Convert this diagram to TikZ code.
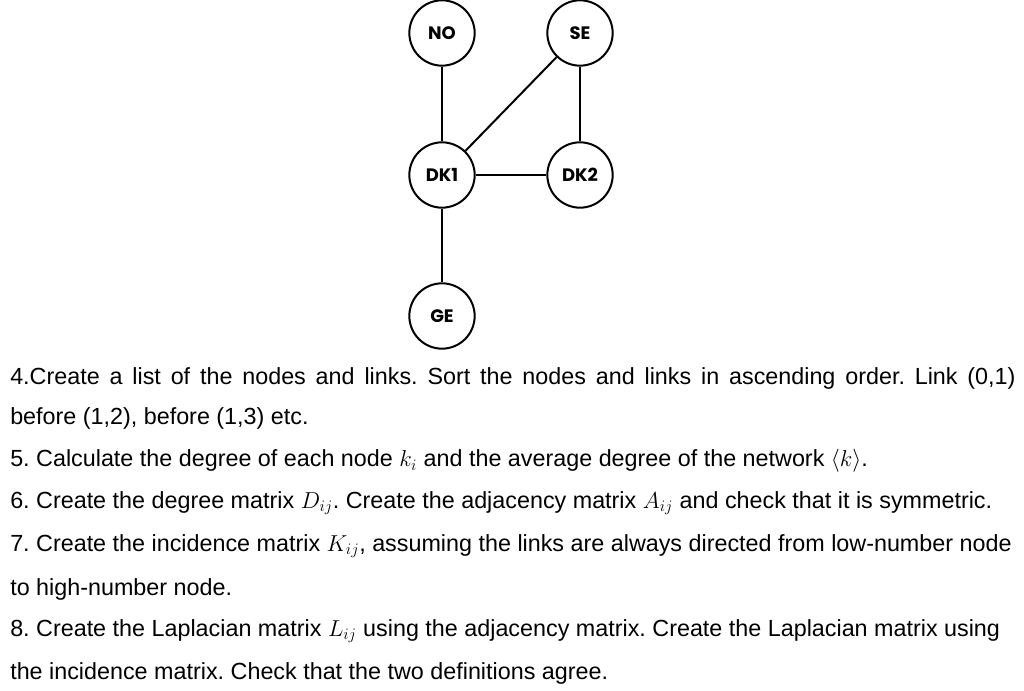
\documentclass[tikz,border=0pt]{standalone}
\usepackage{fontspec}
\setmainfont{Liberation Sans}
\newfontfamily\popfont{Poppins}
\frenchspacing
\begin{document}
\begin{tikzpicture}[x=0.75pt,y=-0.75pt,
  gnode/.style={circle,draw,line width=1.5pt,minimum size=49pt,inner sep=0pt,font=\popfont\bfseries\fontsize{13.5}{16}\selectfont},
  edge/.style={line width=1.5pt},
  txt/.style={anchor=west,inner sep=0pt,font=\fontsize{17.5}{20}\selectfont}]
\useasboundingbox (0,0) rectangle (1024,691);
\node[gnode] (NO) at (442,33) {NO};
\node[gnode] (SE) at (580,33) {SE};
\node[gnode] (DK1) at (442,175) {DK1};
\node[gnode] (DK2) at (580,175) {DK2};
\node[gnode] (GE) at (442,316) {GE};
\draw[edge] (NO) -- (DK1);
\draw[edge] (SE) -- (DK2);
\draw[edge] (SE) -- (DK1);
\draw[edge] (DK1) -- (DK2);
\draw[edge] (DK1) -- (GE);
\node[txt,text width=754pt,align=justify] (l1) at (10,378) {\parfillskip=0pt 4.Create a list of the nodes and links. Sort the nodes and links in ascending order. Link (0,1)\par};
\node[txt] (l2) at (10,418) {before (1,2), before (1,3) etc.};
\node[txt] (l3) at (10,461) {5. Calculate the degree of each node $k_i$ and the average degree of the network $\langle k\rangle$.};
\node[txt] (l4) at (10,503) {6. Create the degree matrix $D_{ij}$. Create the adjacency matrix $A_{ij}$ and check that it is symmetric.};
\node[txt] (l5) at (10,546) {7. Create the incidence matrix $K_{ij}$, assuming the links are always directed from low-number node};
\node[txt] (l6) at (10,589) {to high-number node.};
\node[txt] (l7) at (10,631) {8. Create the Laplacian matrix $L_{ij}$ using the adjacency matrix. Create the Laplacian matrix using};
\node[txt] (l8) at (10,673) {the incidence matrix. Check that the two definitions agree.};
\end{tikzpicture}
\end{document}
